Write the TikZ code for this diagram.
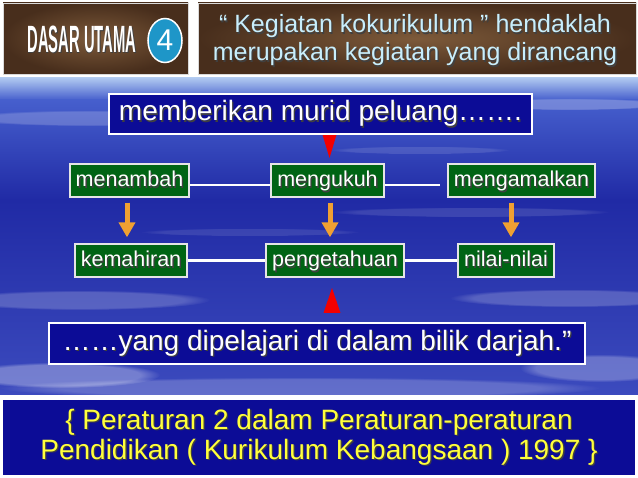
\documentclass[tikz,border=0pt]{standalone}
\usepackage{fontspec}
\setmainfont{Liberation Sans}
\usetikzlibrary{positioning,arrows.meta,shapes.geometric,fadings}
\definecolor{skytop}{RGB}{175,200,240}
\definecolor{skyhi}{RGB}{70,95,205}
\definecolor{skymid}{RGB}{32,42,165}
\definecolor{skylow}{RGB}{60,75,190}
\definecolor{boxblue}{RGB}{12,12,150}
\definecolor{boxgreen}{RGB}{0,100,20}
\definecolor{arrorange}{RGB}{240,160,50}
\definecolor{marblelight}{RGB}{125,90,58}
\definecolor{marbledark}{RGB}{72,46,28}
\definecolor{quotecyan}{RGB}{200,238,252}
\definecolor{notegold}{RGB}{255,255,60}
\definecolor{numblue}{RGB}{30,150,200}
\newcommand\shtext[1]{\leavevmode\rlap{\kern1.3pt\raisebox{-1.3pt}{\color{black!75}#1}}#1}

\begin{document}
\begin{tikzpicture}[x=1pt,y=-1pt,
    marblebox/.style={draw=white!85!black, line width=0.8pt, inner color=marblelight, outer color=marbledark, inner sep=0pt},
    bluebox/.style={draw=white, line width=1.6pt, fill=boxblue, text=white, inner sep=0pt},
    greenbox/.style={draw=white!90!black, line width=1.3pt, fill=boxgreen, text=white, inner sep=0pt, minimum height=33pt,
      text height=17pt, text depth=4pt, font=\fontsize{21.5}{21.5}\selectfont},
    link/.style={draw=white, line width=2.8pt},
    downarrow/.style={draw=arrorange, line width=5pt, -{Triangle[width=16pt,length=15pt]}, shorten <=5pt, shorten >=6pt},
    redtip/.style={fill=red!95!black},
    streak/.style={fill=white, path fading=circle with fuzzy edge 20 percent}]
  \useasboundingbox (0,0) rectangle (638,478);
  \fill[white] (0,0) rectangle (638,478);
  % sky
  \fill[top color=skytop, bottom color=skyhi] (0,78) rectangle (638,100);
  \fill[top color=skyhi, bottom color=skymid] (0,100) rectangle (638,200);
  \fill[top color=skymid, bottom color=skylow] (0,200) rectangle (638,396);
  \foreach \x/\y/\rx/\ry/\op in {90/118/130/8/0.2, 570/104/100/6/0.25, 470/212/140/5/0.12,
      80/300/130/10/0.2, 570/298/120/9/0.2, 300/388/300/11/0.2, 60/375/100/13/0.3,
      600/368/80/14/0.25, 420/150/90/4/0.12, 250/232/110/4/0.1}
    \fill[streak, opacity=\op] (\x,\y) ellipse ({\rx} and {\ry});
  % header
  \node[marblebox, minimum width=185pt, minimum height=71pt] (tag) at (95.5,38.5) {};
  \node[marblebox, minimum width=438pt, minimum height=71pt] (quote) at (417,38.5) {};
  \node[text=white, font=\bfseries\fontsize{38}{38}\selectfont] (dasar) at (82,40)
    {\scalebox{0.39}[1]{\shtext{DASAR UTAMA}}};
  \node[ellipse, draw=white, line width=1.5pt, fill=numblue, minimum width=34pt, minimum height=44pt,
    inner sep=0pt, text=white, font=\fontsize{30}{30}\selectfont] (num) at (165,40.5) {4};
  \node[text=quotecyan, align=center, font=\fontsize{25}{28}\selectfont] (quotetext) at (415,41)
    {\shtext{\textquotedblleft\ Kegiatan kokurikulum \textquotedblright\ hendaklah}\\
     \shtext{merupakan kegiatan yang dirancang}};
  % diagram
  \fill[redtip] (322,133) -- (337,133) -- (329.5,158) -- cycle;
  \fill[redtip] (323.5,313) -- (340.5,313) -- (332,288) -- cycle;
  \node[bluebox, minimum width=423pt, minimum height=40pt, text height=20pt, text depth=6pt,
    font=\fontsize{28}{28}\selectfont] (peluang) at (320.5,114)
    {\shtext{memberikan murid peluang\textellipsis\textellipsis.}};
  \node[greenbox, minimum width=119pt] (menambah) at (129.5,180.5) {\shtext{menambah}};
  \node[greenbox, minimum width=113pt] (mengukuh) at (327.5,180.5) {\shtext{mengukuh}};
  \node[greenbox, minimum width=147pt] (mengamalkan) at (521.5,180.5) {\shtext{mengamalkan}};
  \node[greenbox, minimum width=112pt] (kemahiran) at (131,260.5) {\shtext{kemahiran}};
  \node[greenbox, minimum width=138pt] (pengetahuan) at (335,260.5) {\shtext{pengetahuan}};
  \node[greenbox, minimum width=96pt] (nilai) at (506,260.5) {\shtext{nilai-nilai}};
  \draw[link] ([yshift=-4.5pt]menambah.east) -- ([yshift=-4.5pt]mengukuh.west);
  \draw[link] ([yshift=-4.5pt]mengukuh.east) -- ([yshift=-4.5pt,xshift=-7pt]mengamalkan.west);
  \draw[link] (kemahiran) -- (pengetahuan);
  \draw[link] (pengetahuan) -- (nilai);
  \draw[downarrow] ([xshift=-2.5pt]menambah.south) -- ([xshift=-2.5pt]menambah.south |- kemahiran.north);
  \draw[downarrow] ([xshift=2.5pt]mengukuh.south) -- ([xshift=2.5pt]mengukuh.south |- pengetahuan.north);
  \draw[downarrow] ([xshift=-10.5pt]mengamalkan.south) -- ([xshift=-10.5pt]mengamalkan.south |- nilai.north);
  \node[bluebox, minimum width=536pt, minimum height=41pt, text height=20pt, text depth=6pt,
    font=\fontsize{28}{28}\selectfont] (darjah) at (317,343.5)
    {\shtext{\textellipsis\textellipsis yang dipelajari di dalam bilik darjah.\textquotedblright}};
  % footnote
  \draw[white, line width=2pt] (0,396) -- (638,396);
  \node[bluebox, minimum width=634pt, minimum height=77pt, text=notegold, align=center,
    font=\fontsize{28}{30}\selectfont] (peraturan) at (319,437.5)
    {\shtext{\{ Peraturan 2 dalam Peraturan-peraturan}\\
     \shtext{Pendidikan ( Kurikulum Kebangsaan ) 1997 \}}};
\end{tikzpicture}
\end{document}
